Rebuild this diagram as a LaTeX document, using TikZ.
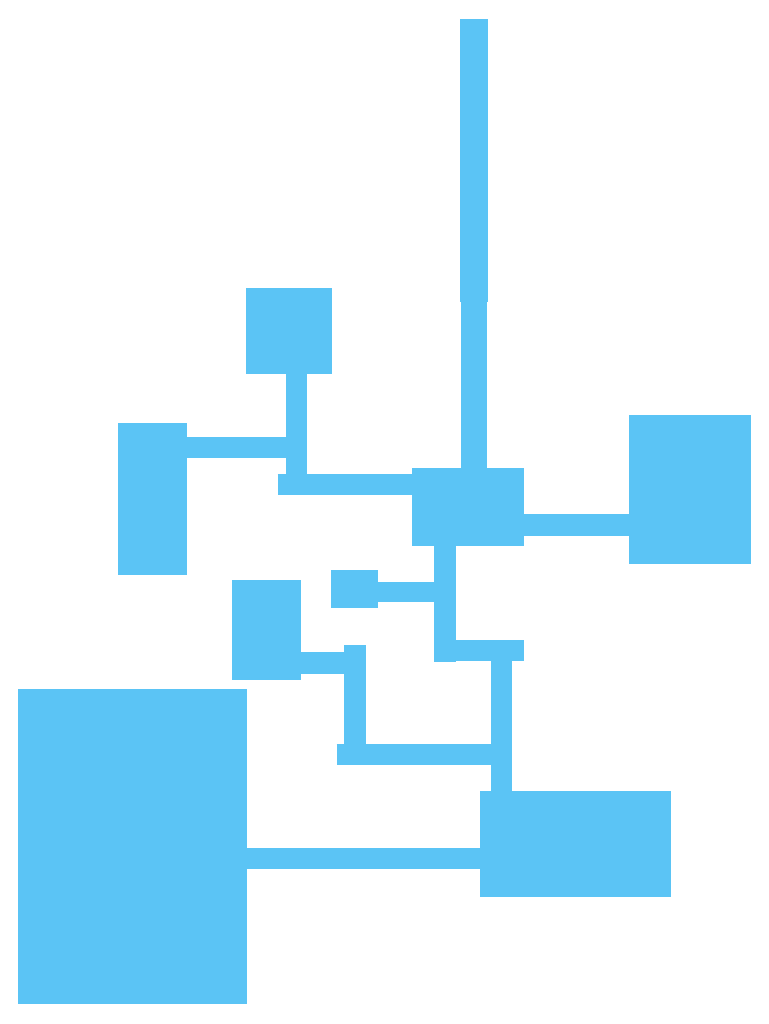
\documentclass[tikz,border=0pt]{standalone}
\definecolor{sky}{RGB}{91,196,245}
\begin{document}
\begin{tikzpicture}[x=1pt,y=-1pt,
  box/.style={fill=sky,draw=none,inner sep=0pt,outer sep=0pt,rectangle},
  conn/.style={draw=sky,line width=21.3pt,line cap=butt}]
\useasboundingbox (0,0) rectangle (768,1024);
% boxes
\node[box,minimum width=28pt,minimum height=282.5pt] (T) at (474,160.75) {};
\node[box,minimum width=86pt,minimum height=86pt] (A) at (289,331) {};
\node[box,minimum width=69.6pt,minimum height=151.7pt] (L) at (152.5,499.2) {};
\node[box,minimum width=112.3pt,minimum height=78pt] (C) at (467.85,506.7) {};
\node[box,minimum width=122pt,minimum height=148.7pt] (R) at (689.7,489.65) {};
\node[box,minimum width=46.7pt,minimum height=38.3pt] (S) at (354.35,589.15) {};
\node[box,minimum width=69.3pt,minimum height=99.7pt] (M) at (266.35,629.85) {};
\node[box,minimum width=229.2pt,minimum height=314.7pt] (B) at (132.1,846.65) {};
\node[box,minimum width=190.5pt,minimum height=105.7pt] (D) at (575.25,843.85) {};
% junction coordinates
\coordinate (acEnd) at (277.7,484.65);
\coordinate (acTurn) at (296.35,484.65);
\coordinate (lJoin) at (296.35,447.65);
\coordinate (cDown) at (444.85,661.7);
\coordinate (tBarL) at (434,650.35);
\coordinate (tBarR) at (524.3,650.35);
\coordinate (dTurn) at (501.35,650.35);
\coordinate (sJoin) at (434,592.3);
\coordinate (mTop) at (354.85,645);
\coordinate (mBot) at (354.85,765);
\coordinate (hL) at (336.7,754.15);
\coordinate (hR) at (501.35,754.15);
\coordinate (mJoin) at (354.85,662.85);
\coordinate (rY) at (0,524.85);
\coordinate (bdY) at (0,858.5);
% connectors
\draw[conn,line width=26.6pt] (T.south) -- (T.south |- C.north);
\draw[conn] (acEnd) -- (acEnd -| C.west);
\draw[conn] (acTurn) -- (acTurn |- A.south);
\draw[conn] (lJoin -| L.east) -- (lJoin);
\draw[conn] (rY -| C.east) -- (rY -| R.west);
\draw[conn] (cDown |- C.south) -- (cDown);
\draw[conn] (tBarL) -- (tBarR);
\draw[conn] (dTurn) -- (dTurn |- D.north);
\draw[conn,line width=20pt] (sJoin -| S.east) -- (sJoin);
\draw[conn] (mJoin -| M.east) -- (mJoin);
\draw[conn] (mTop) -- (mBot);
\draw[conn] (hL) -- (hR);
\draw[conn] (bdY -| B.east) -- (bdY -| D.west);
\end{tikzpicture}
\end{document}
